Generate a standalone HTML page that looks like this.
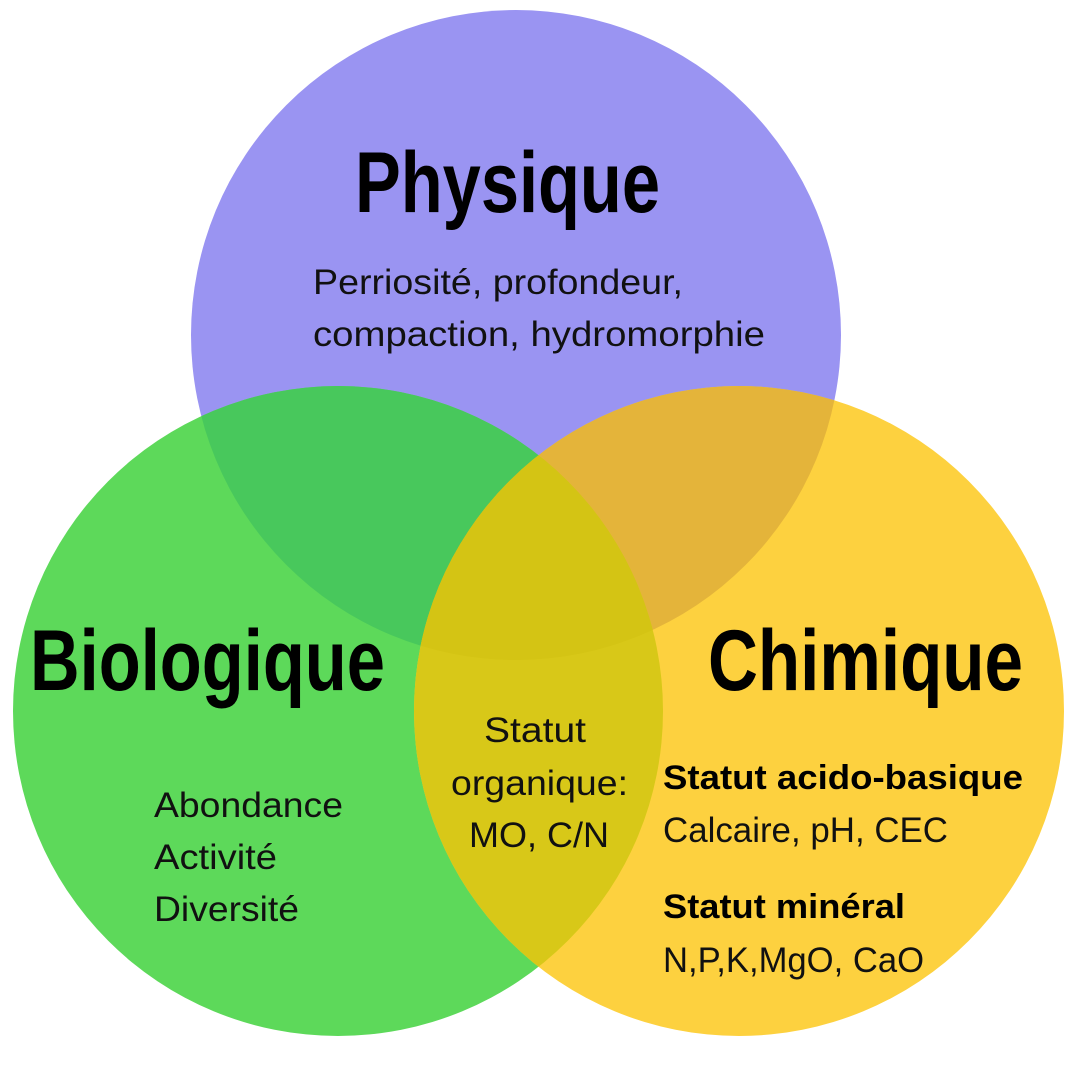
<!DOCTYPE html>
<html><head><meta charset="utf-8"><style>
html,body{margin:0;padding:0;background:#fff;}
svg{display:block}
.h{font-family:"Liberation Sans Narrow","Liberation Sans",sans-serif;font-weight:bold;font-size:86px;fill:#000}
.t{font-family:"Liberation Sans",sans-serif;font-size:35px;fill:#111}
.b{font-family:"Liberation Sans",sans-serif;font-weight:bold;font-size:34px;fill:#000}
</style></head><body>
<svg width="1080" height="1080" viewBox="0 0 1080 1080">
<defs>
<clipPath id="P"><circle cx="516" cy="335" r="325"/></clipPath>
<clipPath id="G"><circle cx="338" cy="711" r="325"/></clipPath>
<clipPath id="Y"><circle cx="739" cy="711" r="325"/></clipPath>
</defs>
<circle cx="516" cy="335" r="325" fill="#9a94f2"/>
<circle cx="338" cy="711" r="325" fill="#5dd95a"/>
<circle cx="739" cy="711" r="325" fill="#fdd13f"/>
<g clip-path="url(#P)"><circle cx="338" cy="711" r="325" fill="#48c85c"/><circle cx="739" cy="711" r="325" fill="#e4b43a"/></g>
<g clip-path="url(#G)"><circle cx="739" cy="711" r="325" fill="#d8c818"/></g>
<g clip-path="url(#G)"><g clip-path="url(#Y)"><circle cx="516" cy="335" r="325" fill="#d4c414"/></g></g>

<text class="h" x="355" y="212" textLength="305" lengthAdjust="spacingAndGlyphs">Physique</text>
<text class="t" x="313" y="294" textLength="370" lengthAdjust="spacingAndGlyphs">Perriosité, profondeur,</text>
<text class="t" x="313" y="346" textLength="452" lengthAdjust="spacingAndGlyphs">compaction, hydromorphie</text>

<text class="h" x="30" y="690" textLength="355" lengthAdjust="spacingAndGlyphs">Biologique</text>
<text class="t" x="154" y="817" textLength="189" lengthAdjust="spacingAndGlyphs">Abondance</text>
<text class="t" x="154" y="869" textLength="123" lengthAdjust="spacingAndGlyphs">Activité</text>
<text class="t" x="154" y="921" textLength="145" lengthAdjust="spacingAndGlyphs">Diversité</text>

<text class="h" x="708" y="690" textLength="315" lengthAdjust="spacingAndGlyphs">Chimique</text>
<text class="b" x="663" y="789" textLength="360" lengthAdjust="spacingAndGlyphs">Statut acido-basique</text>
<text class="t" x="663" y="842" textLength="285" lengthAdjust="spacingAndGlyphs">Calcaire, pH, CEC</text>
<text class="b" x="663" y="918" textLength="242" lengthAdjust="spacingAndGlyphs">Statut minéral</text>
<text class="t" x="663" y="972" textLength="261" lengthAdjust="spacingAndGlyphs">N,P,K,MgO, CaO</text>

<text class="t" x="484" y="742" textLength="102" lengthAdjust="spacingAndGlyphs">Statut</text>
<text class="t" x="451" y="795" textLength="177" lengthAdjust="spacingAndGlyphs">organique:</text>
<text class="t" x="469" y="847" textLength="140" lengthAdjust="spacingAndGlyphs">MO, C/N</text>
</svg>
</body></html>
